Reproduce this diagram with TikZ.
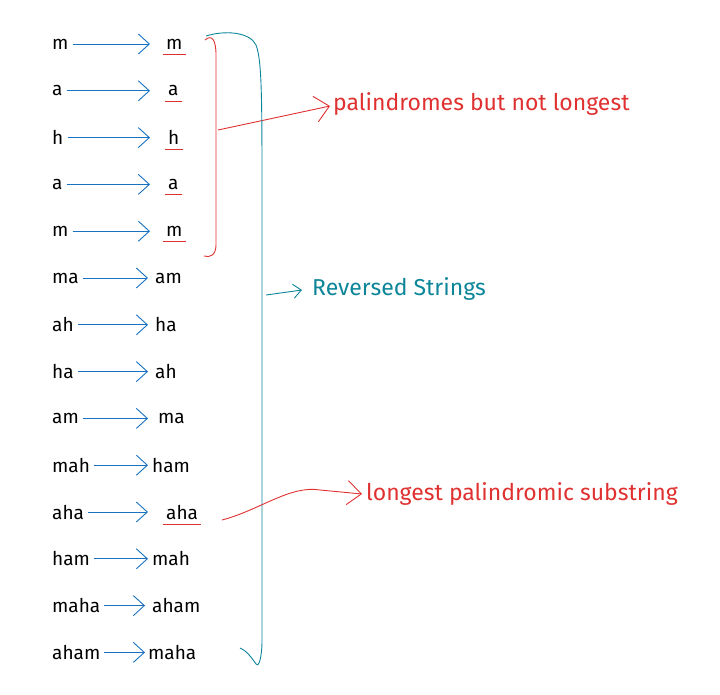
\documentclass[tikz,border=0pt]{standalone}
\usepackage{fontspec}
\setmainfont{Fira Sans}
\usetikzlibrary{arrows.meta}
\definecolor{bl}{HTML}{1971C2}
\definecolor{rd}{HTML}{E03131}
\definecolor{tl}{HTML}{0C8599}
\begin{document}
\begin{tikzpicture}[x=1pt,y=-1pt,
  wd/.style={inner sep=0pt,font=\fontsize{19}{19}\selectfont,anchor=west},
  arr/.style={draw=bl,line width=0.9pt,-{Straight Barb[length=11pt,width=20pt]}},
  ul/.style={draw=rd,line width=0.9pt},
  lab/.style={inner sep=0pt,font=\fontsize{23}{23}\selectfont,anchor=west}]
\useasboundingbox (0,0) rectangle (720,694);
\foreach \i/\l/\r/\bx/\rx in {
 1/m/m/150/166, 2/a/a/150/168, 3/h/h/150/168, 4/a/a/150/168, 5/m/m/150/166,
 6/ma/am/148/155, 7/ah/ha/148/155, 8/ha/ah/148/155, 9/am/ma/148/158,
 10/mah/ham/148/152, 11/aha/aha/148/166, 12/ham/mah/148/152,
 13/maha/aham/145/152, 14/aham/maha/145/148}{
  \pgfmathsetmacro\yy{44+(\i-1)*46.8}
  \node[wd] (l\i) at (52,\yy) {\l};
  \node[wd] (r\i) at (\rx,\yy) {\r};
  \coordinate (a\i) at ([xshift=4pt]l\i.east);
  \coordinate (b\i) at (\bx,\yy);
  \draw[arr] (a\i) -- (b\i);
}
\foreach \i in {1,...,5}{
  \draw[ul] ([yshift=-5pt,xshift=-3pt]r\i.south west) -- ([yshift=-5pt,xshift=3pt]r\i.south east);
}
\draw[ul] ([yshift=-5pt,xshift=-3pt]r11.south west) -- ([yshift=-5pt,xshift=3pt]r11.south east);
% red bracket
\draw[rd,line width=0.9pt] (205,40) .. controls (212,34) and (216,40) .. (216,55) -- (216,245) .. controls (216,255) and (210,258) .. (204,256);
\coordinate (rb) at (218,130);
\coordinate (rt) at (330,106);
\draw[rd,line width=0.9pt,-{Straight Barb[length=14pt,width=26pt]}] (rb) -- (rt);
\node[lab,text=rd] (p1) at (333,104) {palindromes but not longest};
% teal bracket
\draw[tl,line width=0.9pt] (206,36) .. controls (225,30) and (250,32) .. (256,45) .. controls (262,60) and (262,100) .. (262,200) -- (262,640) .. controls (262,660) and (258,668) .. (256,664) .. controls (250,655) and (245,650) .. (240,648);
\coordinate (tb) at (266,295);
\coordinate (tt) at (302,290);
\draw[tl,line width=0.9pt,-{Straight Barb[length=8pt,width=14pt]}] (tb) -- (tt);
\node[lab,text=tl] (p2) at (312,289) {Reversed Strings};
% longest
\coordinate (lb) at (222,520);
\coordinate (lt) at (362,494);
\draw[rd,line width=0.9pt,-{Straight Barb[length=14pt,width=24pt]}] (lb) .. controls (260,510) and (290,485) .. (320,490) -- (lt);
\node[lab,text=rd] (p3) at (366,494) {longest palindromic substring};
\end{tikzpicture}
\end{document}
